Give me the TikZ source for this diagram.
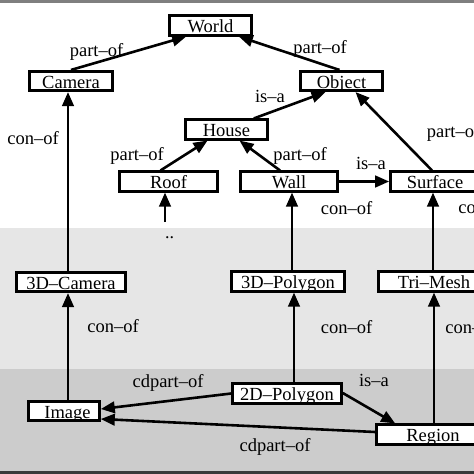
\documentclass[tikz,border=0pt]{standalone}
\usepackage{fontspec}
\setmainfont{Liberation Serif}
\usetikzlibrary{arrows.meta}
\definecolor{bandlight}{HTML}{E6E6E6}
\definecolor{banddark}{HTML}{CCCCCC}
\definecolor{topline}{HTML}{7F7F7F}
\definecolor{botline}{HTML}{3A3A3A}
\begin{document}
\begin{tikzpicture}[x=1pt,y=-1pt,
  box/.style={draw=black, line width=2.6pt, fill=white, inner sep=0pt,
    minimum height=19.5pt, text height=15pt, text depth=0.5pt,
    font=\fontsize{18.5}{20}\selectfont},
  lbl/.style={anchor=base, inner sep=0pt, font=\fontsize{18.5}{20}\selectfont},
  arr/.style={line width=2.6pt, -{Triangle[length=14pt,width=11.5pt]}}
]
\useasboundingbox (0,0) rectangle (474,474);
\clip (0,0) rectangle (474,474);
% background bands
\fill[white] (0,0) rectangle (474,474);
\fill[bandlight] (0,228) rectangle (474,369);
\fill[banddark] (0,369) rectangle (474,471);
\fill[topline] (0,0) rectangle (474,2.5);
\fill[botline] (0,471) rectangle (474,474);

% nodes
\node[box, minimum width=82pt] (world) at (210.5,25.5) {World};
\node[box, minimum width=83pt] (camera) at (71,81) {Camera};
\node[box, minimum width=82pt] (object) at (341.5,81) {Object};
\node[box, minimum width=82pt] (house) at (226.5,129.5) {House};
\node[box, minimum width=98pt] (roof) at (168.5,181.5) {Roof};
\node[box, minimum width=97pt] (wall) at (289,181.5) {Wall};
\node[box, minimum width=89pt] (surface) at (435,181.5) {Surface};
\node[box, minimum width=109pt] (cam3d) at (71,282) {3D–Camera};
\node[box, minimum width=113pt] (poly3d) at (288,281.5) {3D–Polygon};
\node[box, minimum width=111pt] (trimesh) at (434,281.5) {Tri–Mesh};
\node[box, minimum width=71pt] (image) at (64,411) {\hspace*{7pt}Image};
\node[box, minimum width=109pt] (poly2d) at (287,393.5) {2D–Polygon};
\node[box, minimum width=113pt] (region) at (433,434.5) {Region};

\coordinate (roofin) at (165,222);
\node[inner sep=0pt, font=\fontsize{18}{18}\selectfont] (dots) at (169.5,238) {..};

% connectors
\draw[arr] (camera.north) -- ([xshift=18pt]world.south west);
\draw[arr] ([xshift=-2pt]object.north) -- ([xshift=-14pt]world.south east);
\draw[arr] ([xshift=-15pt]house.north east) -- ([xshift=-16pt]object.south);
\draw[arr] ([xshift=-8pt]roof.north) -- ([xshift=-19pt]house.south);
\draw[arr] ([xshift=-9pt]wall.north) -- ([xshift=13pt]house.south);
\draw[arr] ([xshift=-3pt]surface.north) -- ([xshift=14pt]object.south);
\draw[arr] (wall.east) -- (surface.west);
\draw[arr] (roofin) -- (roofin |- roof.south);

\draw[arr] ([xshift=-3pt]cam3d.north) -- ([xshift=-3pt]camera.south);
\draw[arr] ([xshift=4pt]poly3d.north) -- ([xshift=3pt]wall.south);
\draw[arr] ([xshift=-1pt]trimesh.north) -- ([xshift=-2pt]surface.south);
\draw[arr] ([xshift=4pt]image.north) -- ([xshift=-3pt]cam3d.south);
\draw[arr] ([xshift=7pt]poly2d.north) -- ([xshift=6pt]poly3d.south);
\draw[arr] ([xshift=1pt]region.north) -- (trimesh.south);

\draw[arr] (poly2d.west) -- ([yshift=2pt]image.east);
\draw[arr] ([yshift=2.5pt]region.west) -- ([yshift=-8pt]image.east);
\draw[arr] ([yshift=0.5pt]poly2d.east) -- ([xshift=20pt]region.north west);

% labels
\node[lbl] at (96.5,56) {part–of};
\node[lbl] at (320,53) {part–of};
\node[lbl] at (33,144) {con–of};
\node[lbl] at (270,102) {is–a};
\node[lbl] at (137,160) {part–of};
\node[lbl] at (300,160) {part–of};
\node[lbl] at (371,169) {is–a};
\node[lbl] at (453.5,137) {part–of};
\node[lbl] at (346.5,214) {con–of};
\node[lbl] at (484,213) {con–of};
\node[lbl] at (113,332) {con–of};
\node[lbl] at (346.5,333) {con–of};
\node[lbl] at (471,333) {con–of};
\node[lbl] at (168,387) {cdpart–of};
\node[lbl] at (374,386) {is–a};
\node[lbl] at (275,451) {cdpart–of};
\end{tikzpicture}
\end{document}
